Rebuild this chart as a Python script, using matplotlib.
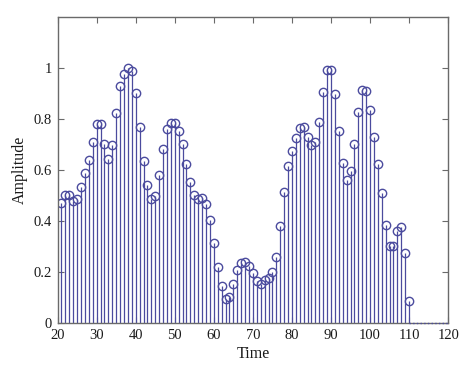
import numpy as np
import matplotlib
matplotlib.use("Agg")
import matplotlib.pyplot as plt

# samples, t = 21..110
time = np.arange(21, 111)
amplitude = [
    0.472, 0.503, 0.503, 0.480, 0.488, 0.533, 0.588, 0.641, 0.711, 0.781,
    0.781, 0.702, 0.642, 0.698, 0.823, 0.930, 0.977, 0.999, 0.986, 0.901,
    0.770, 0.637, 0.542, 0.488, 0.498, 0.579, 0.683, 0.761, 0.784, 0.783,
    0.754, 0.700, 0.622, 0.553, 0.503, 0.488, 0.490, 0.465, 0.403, 0.315,
    0.221, 0.146, 0.095, 0.101, 0.152, 0.208, 0.234, 0.239, 0.226, 0.195,
    0.165, 0.152, 0.169, 0.179, 0.199, 0.260, 0.380, 0.512, 0.615, 0.676,
    0.727, 0.763, 0.767, 0.731, 0.696, 0.709, 0.789, 0.906, 0.990, 0.992,
    0.897, 0.754, 0.627, 0.562, 0.597, 0.702, 0.828, 0.913, 0.909, 0.836,
    0.731, 0.624, 0.510, 0.386, 0.303, 0.303, 0.361, 0.377, 0.277, 0.087,
]
xticks = np.arange(20, 121, 10)
yticks = [0, 0.2, 0.4, 0.6, 0.8, 1]
ytick_labels = ["0", "0.2", "0.4", "0.6", "0.8", "1"]

plt.rcParams['font.family'] = ['Liberation Serif', 'DejaVu Serif']
col = '#4b4b9e'

fig = plt.figure(figsize=(4.74, 3.76), dpi=100)
ax = fig.add_axes([0.1215, 0.1402, 0.824, 0.8154])

markers, stems, base = ax.stem(time, amplitude, basefmt=' ')
plt.setp(stems, color=col, linewidth=0.9)
plt.setp(markers, marker='o', markersize=6, markerfacecolor='none',
         markeredgecolor=col, markeredgewidth=1.0)

ax.set_xlim(20, 120)
ax.set_ylim(0, 1.2)
# dotted baseline beyond the last sample
ax.plot([time[-1], 120], [0, 0], linestyle=':', color=col, linewidth=1, clip_on=False, zorder=5)

ax.set_xticks(xticks)
ax.set_yticks(yticks)
ax.set_yticklabels(ytick_labels)
ax.tick_params(direction='in', top=True, right=True, length=4, width=0.8,
               color='#6a6a6a', labelsize=10.5, labelcolor='#1a1a1a', pad=4)
for s in ax.spines.values():
    s.set_color('#6a6a6a')
    s.set_linewidth(1)

ax.set_xlabel('Time', fontsize=11.5, color='#1a1a1a', labelpad=3)
ax.set_ylabel('Amplitude', fontsize=11.5, color='#1a1a1a', labelpad=4)

fig.savefig('out.png', dpi=100)
